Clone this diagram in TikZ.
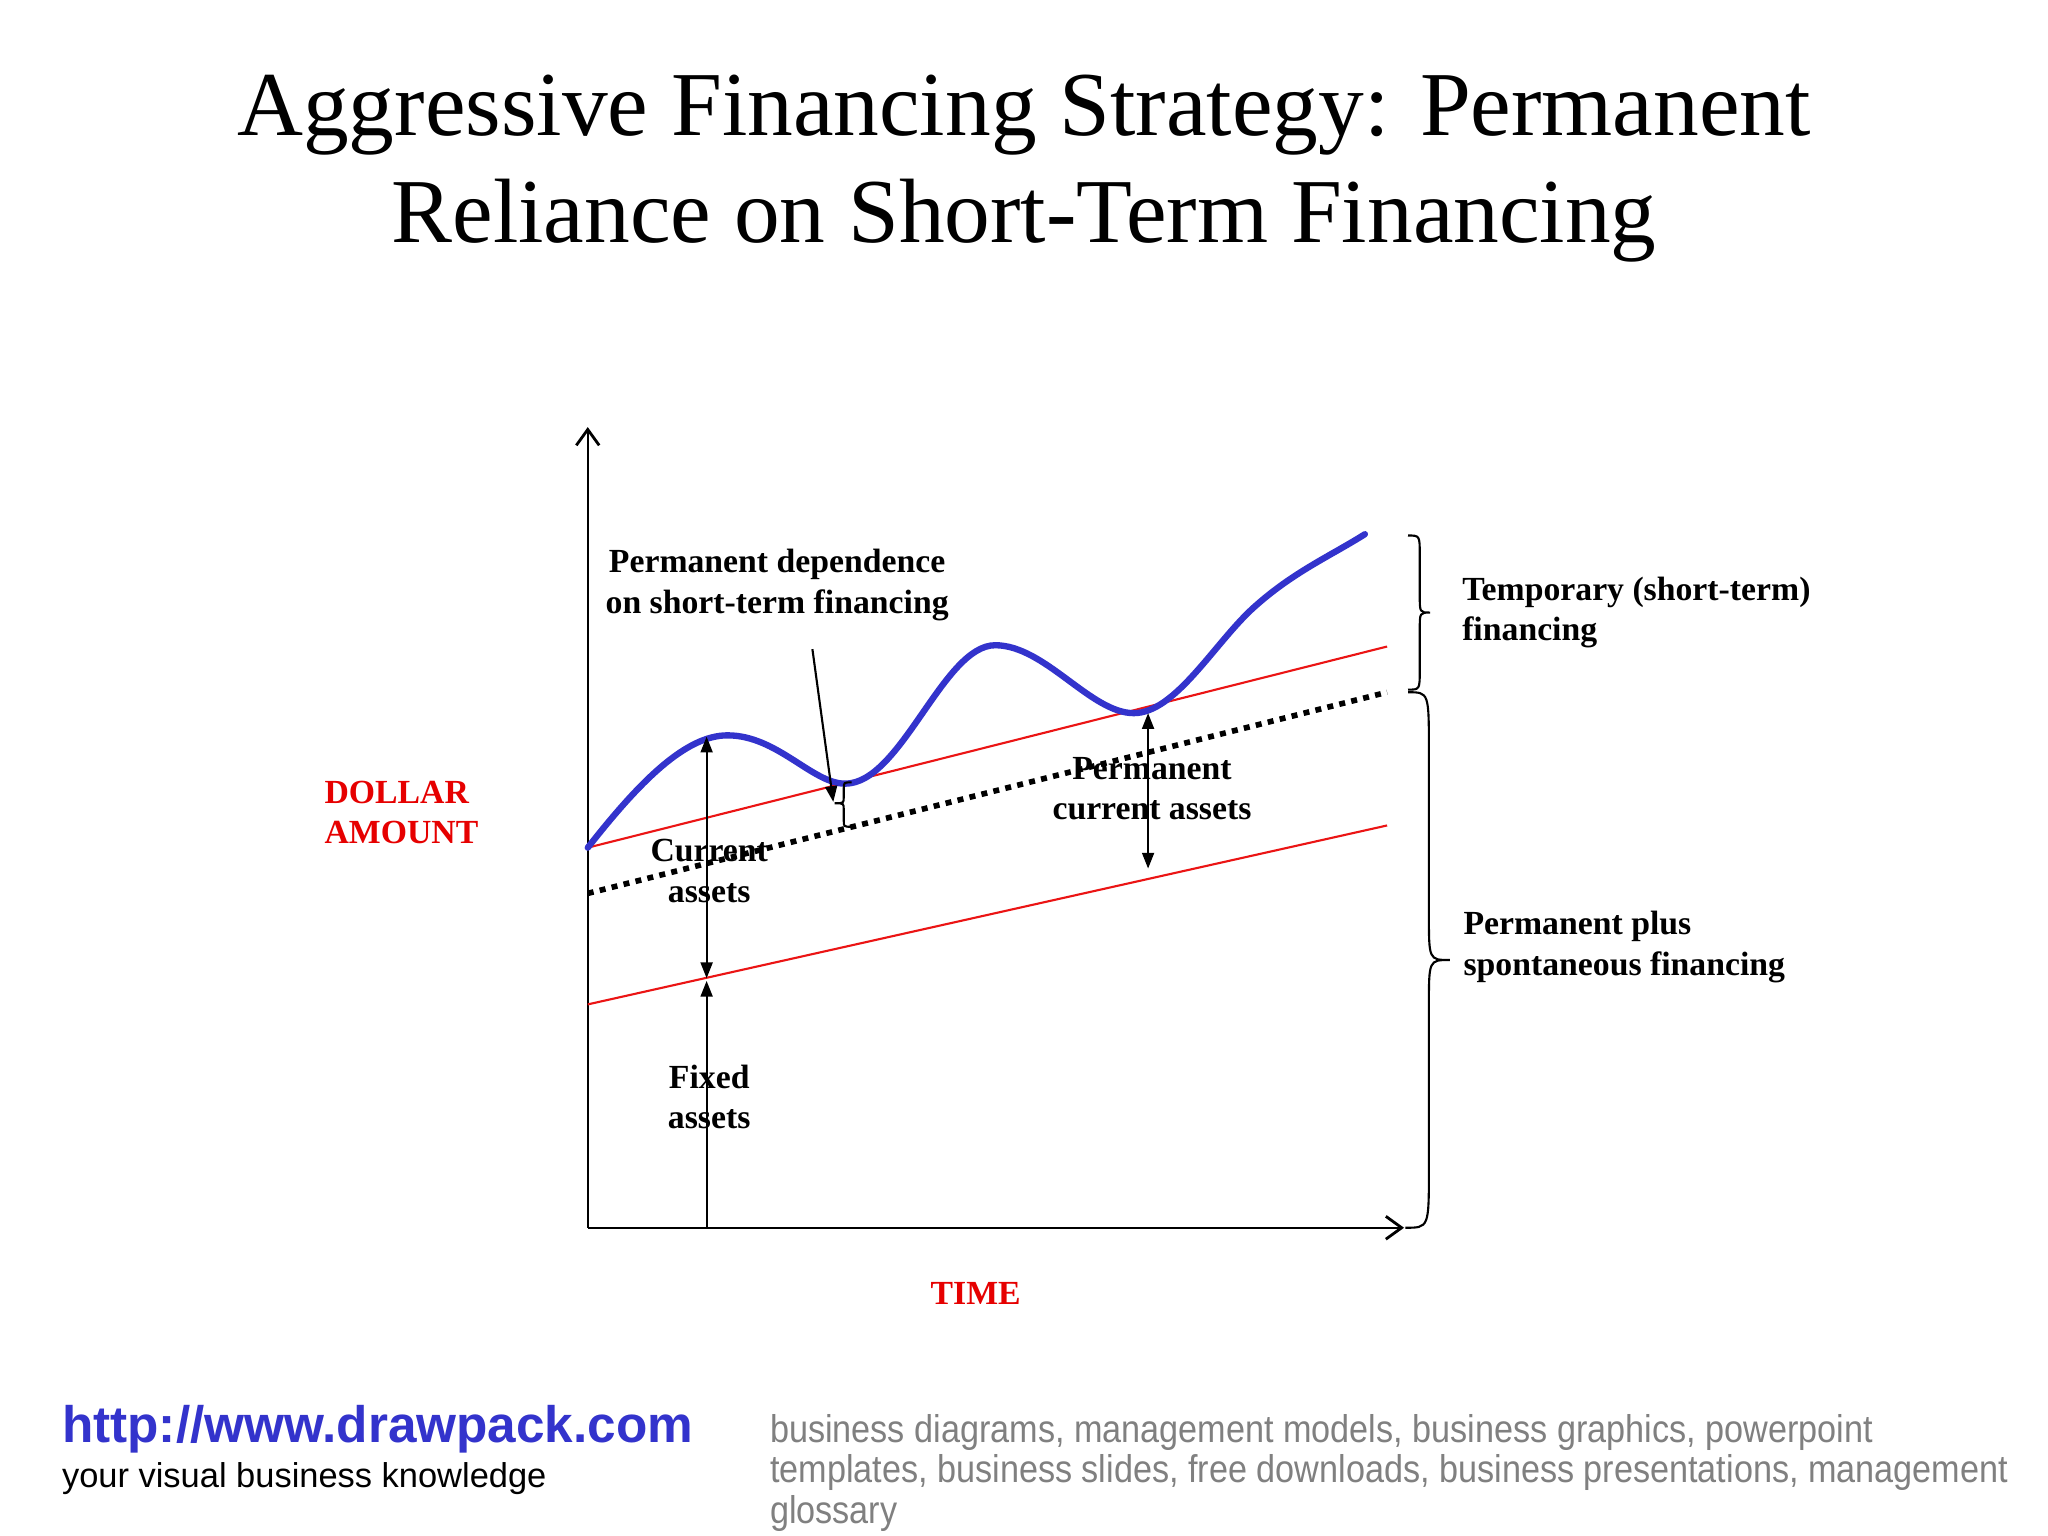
\documentclass[tikz,border=0pt]{standalone}
\usepackage{fontspec}
\usepackage{graphicx}
\setmainfont{Liberation Serif}
\setsansfont{Liberation Sans}
\usetikzlibrary{arrows.meta}
\definecolor{curveblue}{RGB}{51,51,204}
\definecolor{linered}{RGB}{235,20,20}
\definecolor{textred}{RGB}{230,0,0}
\definecolor{urlblue}{RGB}{51,51,204}
\definecolor{footgray}{RGB}{128,128,128}
\begin{document}
\begin{tikzpicture}[x=0.013061cm,y=-0.013061cm,
  lbl/.style={font=\bfseries\fontsize{9.6}{11.5}\selectfont, align=center, inner sep=0pt},
  lbll/.style={lbl, align=left, anchor=west},
  axis/.style={line width=0.55pt, -{Straight Barb[length=4.5pt,width=6.5pt,line width=0.8pt]}},
  redline/.style={linered, line width=0.6pt},
  dotline/.style={line width=1.6pt, dash pattern=on 1.7pt off 1.8pt},
  dbl/.style={line width=0.6pt, {Triangle[length=4.5pt,width=3.4pt]}-{Triangle[length=4.5pt,width=3.4pt]}},
  sgl/.style={line width=0.6pt, -{Triangle[length=4.5pt,width=3.4pt]}},
  bracel/.style={line width=0.6pt}]
\useasboundingbox (0,0) rectangle (1568,1176);
\fill[white] (0,0) rectangle (1568,1176);

% title
\node[font=\fontsize{26}{30.4}\selectfont, align=center, inner sep=0pt] (title) at (784,129)
  {Aggressive Financing Strategy: Permanent\\Reliance on Short-Term Financing};

% axes
\coordinate (O) at (450,940);
\coordinate (Ytop) at (450,327);
\coordinate (Xend) at (1075,940);
\draw[axis] (O) -- (Ytop);
\draw[axis] (O) -- (Xend);

% lines
\coordinate (r1a) at (450,649); \coordinate (r1b) at (1062,495);
\coordinate (da) at (450,684); \coordinate (db) at (1062,530);
\coordinate (r2a) at (450,769); \coordinate (r2b) at (1062,632);
\draw[redline] (r1a) -- (r1b);
\draw[redline] (r2a) -- (r2b);
\draw[dotline] (da) -- (db);

% blue curve
\draw[curveblue, line width=1.8pt, line cap=round]
  (450,649) .. controls (490,598) and (525,563) .. (557,563)
  .. controls (595,563) and (622,600) .. (647,600)
  .. controls (690,600) and (722,494) .. (762,494)
  .. controls (800,494) and (835,546) .. (868,546)
  .. controls (900,546) and (930,492) .. (960,465)
  .. controls (990,438) and (1018,426) .. (1045,409);

% double arrows
\coordinate (ca1) at (541,564); \coordinate (ca2) at (541,749);
\coordinate (fa1) at (541,940); \coordinate (fa2) at (541,751);
\coordinate (pa1) at (879,546); \coordinate (pa2) at (879,665);
\draw[dbl] (ca1) -- (ca2);
\draw[sgl] (fa1) -- (fa2);
\draw[dbl] (pa1) -- (pa2);

% small brace and leader
\draw[bracel] (652,599) .. controls (646,599) .. (646,604) -- (646,610)
  .. controls (646,615) .. (639,615) .. controls (646,615) .. (646,620)
  -- (646,628) .. controls (646,633) .. (652,633);
\coordinate (lead1) at (622,497); \coordinate (lead2) at (638,614);
\draw[sgl] (lead1) -- (lead2);

% big braces
\draw[bracel] (1078,410) .. controls (1087,410) .. (1087,425) -- (1087,456)
  .. controls (1087,469) .. (1095,469) .. controls (1087,469) .. (1087,482)
  -- (1087,513) .. controls (1087,528) .. (1078,528);
\draw[bracel] (1078,530) .. controls (1094,530) .. (1094,575) -- (1094,700)
  .. controls (1094,735) .. (1110,735) .. controls (1094,735) .. (1094,770)
  -- (1094,895) .. controls (1094,940) .. (1076,940);

% labels
\node[lbl] (dep) at (595,448) {Permanent dependence\\on short-term financing};
\node[lbl] (cur) at (543,667) {Current\\assets};
\node[lbl] (fix) at (543,840) {Fixed\\assets};
\node[lbl] (pca) at (882,604) {Permanent\\current assets};
\node[lbll] (tmp) at (1119,469) {Temporary (short-term)\\financing};
\node[lbll] (pps) at (1120,725) {Permanent plus\\spontaneous financing};
\node[lbll, textred] (dol) at (248,622) {DOLLAR\\AMOUNT};
\node[lbl, textred] (time) at (747,990) {TIME};

% footer
\node[font=\sffamily\bfseries\fontsize{14.6}{17}\selectfont, text=urlblue, anchor=west, inner sep=0pt] (url) at (47,1094) {http://www.drawpack.com};
\node[font=\sffamily\fontsize{9.8}{11.5}\selectfont, anchor=west, inner sep=0pt] (tag) at (47,1132) {your visual business knowledge};
\node[font=\sffamily\fontsize{11}{11.5}\selectfont, text=footgray, anchor=west, inner sep=0pt] (kw) at (589,1129)
  {\scalebox{0.885}[1]{\begin{tabular}{@{}l@{}}business diagrams, management models, business graphics, powerpoint\\templates, business slides, free downloads, business presentations, management\\glossary\end{tabular}}};
\end{tikzpicture}
\end{document}
